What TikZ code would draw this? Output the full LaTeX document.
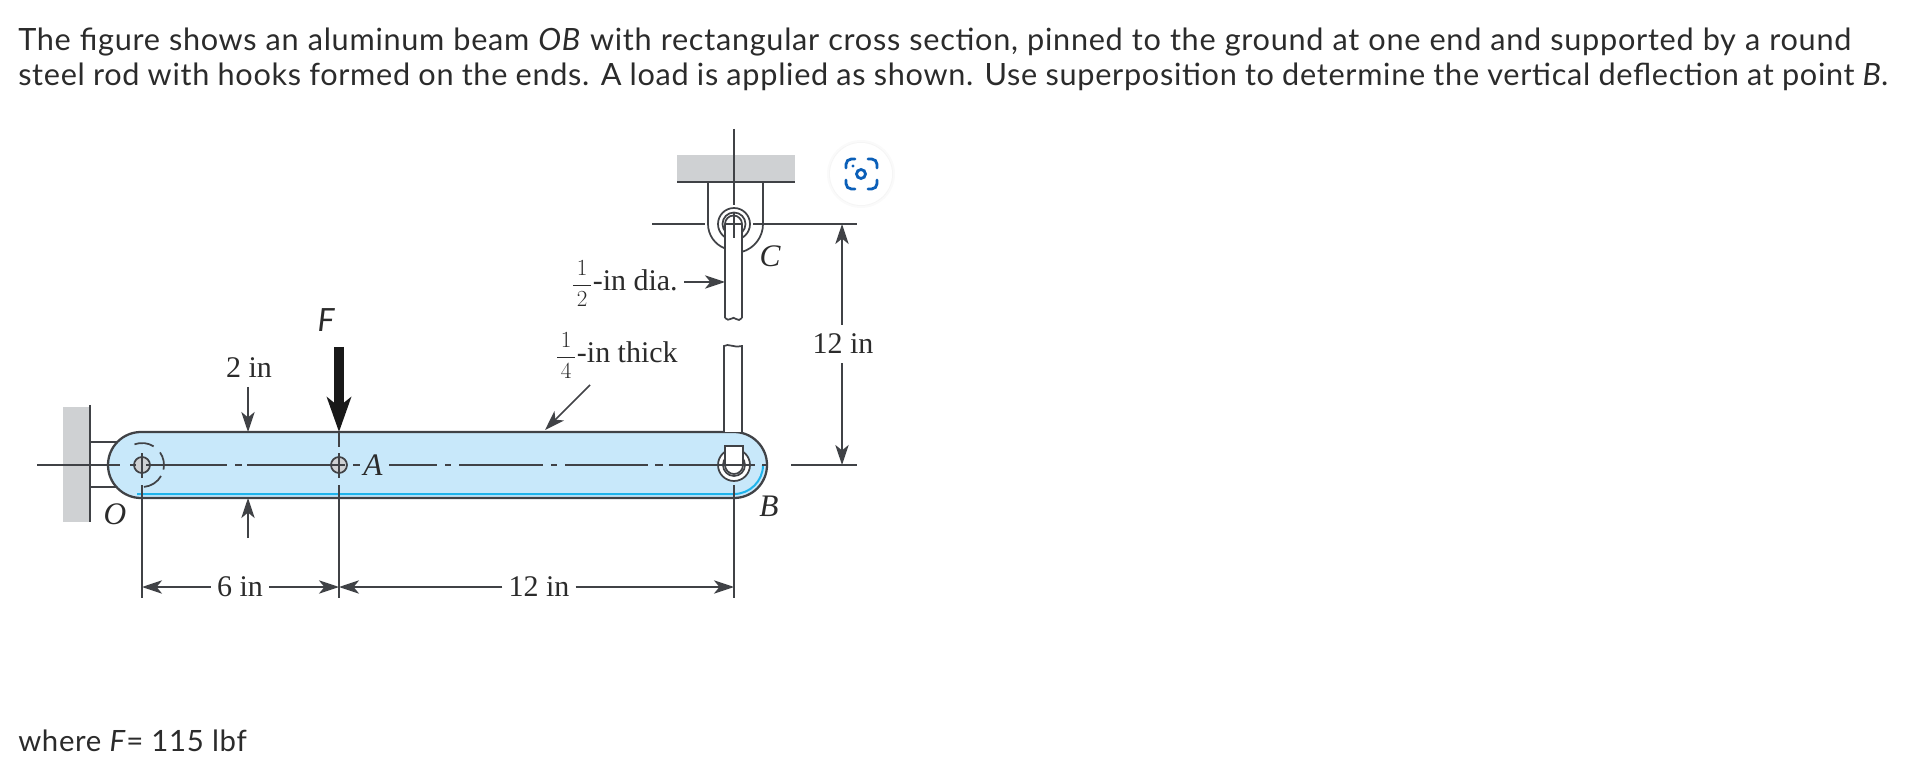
\documentclass[tikz,border=0pt]{standalone}
\usepackage{fontspec}
\setmainfont[LetterSpace=2.3]{Lato}
\newfontfamily\figfont{Liberation Serif}
\usetikzlibrary{arrows.meta,positioning}
\definecolor{inkline}{HTML}{404246}
\definecolor{beamblue}{HTML}{C8E8FA}
\definecolor{edgeblue}{HTML}{1FB4EC}
\definecolor{wallgray}{HTML}{CFD1D3}
\definecolor{scanblue}{HTML}{0B5FB8}
\definecolor{bodytext}{HTML}{2B2B2B}
\newcommand{\stackfrac}[2]{{\fontsize{19}{20}\selectfont$\displaystyle\frac{\,#1\,}{\,#2\,}$}}
\tikzset{
  part/.style={draw=inkline,line width=1.7pt},
  thin part/.style={draw=inkline,line width=1.3pt},
  dim/.style={draw=inkline,line width=1.3pt,-{Stealth[length=15pt,width=10pt,inset=4pt]}},
  lbl/.style={font=\figfont\fontsize{22.5}{24}\selectfont\color{bodytext},inner sep=0pt},
  letter/.style={font=\figfont\fontsize{23.5}{24}\selectfont\itshape\color{bodytext},inner sep=0pt},
  para/.style={font=\fontsize{23}{24}\selectfont\color{bodytext},inner sep=0pt,anchor=base west},
}
\begin{document}
\begin{tikzpicture}[x=0.75pt,y=-0.75pt]
  \useasboundingbox (0,0) rectangle (1922,762);
  \coordinate (pinO) at (142,465);
  \coordinate (pinA) at (339,465);
  \coordinate (pinB) at (734,465);
  \coordinate (pinC) at (734,224);
% problem statement
  \node[para] (line1) at (18,51) {\hbox to 1374.75pt{The figure shows an aluminum beam \textit{OB} with rectangular cross section, pinned to the ground at one end and supported by a round}};
  \node[para] (line2) at (18,86) {\hbox to 1402.5pt{steel rod with hooks formed on the ends. A load is applied as shown. Use superposition to determine the vertical deflection at point \textit{B}.}};
  \node[para,font=\fontsize{22}{24}\selectfont\color{bodytext}] (where) at (18,751) {where \textit{F}= 115 lbf};
% wall at O
  \fill[wallgray] (63,407) rectangle (90,522);
  \draw[part] (90,405) -- (90,522);
  \draw[thin part] (90,442) -- (118,442);
  \draw[thin part] (90,487) -- (135,487);
% ceiling at C
  \fill[wallgray] (677,155) rectangle (795,182);
  \draw[part] (677,182) -- (795,182);
  \draw[thin part] (734,129) -- (734,205);
  \draw[thin part] (708,182) -- (708,224) arc (180:110:26);
  \draw[thin part] (763,182) -- (763,224) arc (0:74:29);
% beam
  \filldraw[part,fill=beamblue] (141,432) -- (734,432) arc (-90:90:33) -- (141,498) arc (90:270:33) -- cycle;
  \draw[edgeblue,line width=1.5pt] (137,494) -- (734,494) arc (90:0:29);
% upper rod
  \draw[thin part] (pinC) circle (16);
  \draw[thin part] (pinC) circle (11.5);
  \filldraw[thin part,fill=white] (725,318) -- (725,224) arc (180:360:8.5) -- (742,318);
  \fill[white] (725,250) rectangle (742,318);
  \draw[thin part] (725,318) -- (725,224);
  \draw[thin part] (742,318) -- (742,224);
  \draw[thin part] (725,318) .. controls (729,323) and (733,315) .. (736,319) .. controls (738,321) and (740,320) .. (742,318);
  \draw[thin part] (734,213) -- (734,238);
  \draw[thin part] (725,224) -- (742,224);
% lower rod
  \fill[white] (724,346) rectangle (742,432);
  \draw[thin part] (724,432) -- (724,346) .. controls (729,343) and (732,348) .. (742,346) -- (742,432);
  \filldraw[thin part,fill=white] (pinB) circle (16);
  \draw[thin part] (pinB) circle (11);
  \filldraw[thin part,fill=white] (725,446) -- (743,446) -- (743,465) arc (0:180:9) -- cycle;
% pins and center line
  \draw[thin part,fill=wallgray] (pinO) circle (8);
  \draw[thin part,fill=wallgray] (pinA) circle (8);
  \draw[thin part] (pinO) +(-110:22) arc (-110:-58:22);
  \draw[thin part] (pinO) +(-35:22) arc (-35:12:22);
  \draw[thin part] (pinO) +(30:22) arc (30:85:22);
  \draw[thin part] (37,465) -- (120,465);
  \draw[thin part] (130,465) -- (136,465);
  \draw[thin part] (142,453) -- (142,478);
  \draw[thin part] (146,465) -- (227,465);
  \draw[thin part] (235,465) -- (242,465);
  \draw[thin part] (247,465) -- (345,465);
  \draw[thin part] (353,465) -- (360,465);
  \draw[thin part] (389,465) -- (437,465);
  \draw[thin part] (445,465) -- (451,465);
  \draw[thin part] (459,465) -- (543,465);
  \draw[thin part] (551,465) -- (557,465);
  \draw[thin part] (565,465) -- (648,465);
  \draw[thin part] (655,465) -- (663,465);
  \draw[thin part] (669,465) -- (755,465);
  \draw[thin part] (762,465) -- (768,465);
  \draw[thin part] (339,432) -- (339,447);
  \draw[thin part] (339,453) -- (339,478);
  \draw[thin part] (339,485) -- (339,598);
  \draw[thin part] (142,485) -- (142,598);
  \draw[thin part] (734,485) -- (734,598);
% 12 in at the rod
  \draw[thin part] (652,224) -- (705,224);
  \draw[thin part] (753,224) -- (857,224);
  \draw[thin part] (791,465) -- (857,465);
  \node[lbl] (rodlen) at (843,344) {12 in};
  \coordinate (rodtop) at (842,224);
  \coordinate (rodbot) at (842,465);
  \draw[dim] (rodlen.north -| rodtop) ++(0,-9) -- (rodtop);
  \draw[dim] (rodlen.south -| rodbot) ++(0,9) -- (rodbot);
% 2 in
  \node[lbl] (depth) at (249,368) {2 in};
  \coordinate (beamtop) at (248,432);
  \coordinate (beambot) at (248,498);
  \draw[dim] (248,387) -- (beamtop);
  \draw[dim] (248,538) -- (beambot);
% 6 in, 12 in
  \node[lbl] (lenOA) at (240,587) {6 in};
  \node[lbl] (lenAB) at (539,587) {12 in};
  \draw[dim] (lenOA.west) ++(-6,0) -- (pinO |- lenOA);
  \draw[dim] (lenOA.east) ++(6,0) -- (pinA |- lenOA);
  \draw[dim] (lenAB.west) ++(-6,0) -- (pinA |- lenAB);
  \draw[dim] (lenAB.east) ++(6,0) -- (pinB |- lenAB);
% load
  \node[para,anchor=center,font=\fontsize{24}{24}\selectfont\itshape\color{bodytext}] (load) at (326,320) {F};
  \draw[line width=7.5pt,draw=black!90,-{Stealth[length=26pt,width=18pt,inset=7pt]}] (339,347) -- (339,432);
% labels
  \node[lbl,anchor=base east] (rodnote) at (678,291) {\stackfrac{1}{2}-in dia.};
  \coordinate (rodside) at (725,282);
  \draw[dim] (rodnote.east |- rodside) ++(6,0) -- (rodside);
  \node[lbl,anchor=base east] (thicknote) at (678,363) {\stackfrac{1}{4}-in thick};
  \coordinate (beamedge) at (545,430);
  \draw[dim] (590,385) -- (beamedge);
  \node[letter] (letterO) at (115,514) {O};
  \node[letter] (letterA) at (373,465) {A};
  \node[letter] (letterB) at (769,506) {B};
  \node[letter] (letterC) at (770,256) {C};
% scan button
  \fill[black,opacity=0.02] (861,174) circle (34);
  \fill[black,opacity=0.02] (861,174) circle (32);
  \fill[white] (861,174) circle (31);
  \begin{scope}[scanblue,line width=2.1pt,line cap=round]
    \draw[rounded corners=4pt] (846,168) -- (846,159) -- (855,159);
    \draw[rounded corners=4pt] (868,159) -- (877,159) -- (877,168);
    \draw[rounded corners=4pt] (877,180) -- (877,189) -- (868,189);
    \draw[rounded corners=4pt] (855,189) -- (846,189) -- (846,180);
    \draw (861,174) circle (4.5);
    \fill (853,166) circle (1.6);
  \end{scope}
\end{tikzpicture}
\end{document}
